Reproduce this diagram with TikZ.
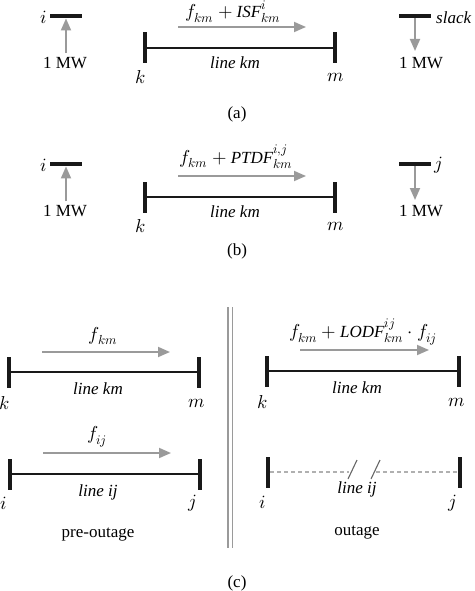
\documentclass[tikz,border=0pt]{standalone}
\usepackage{fontspec}
\usepackage{unicode-math}
\setmainfont{Liberation Serif}
\setmathfont{Latin Modern Math}[Scale=1.1]
\usetikzlibrary{arrows.meta}
\definecolor{flowgray}{HTML}{9A9A9A}
\definecolor{dashgray}{HTML}{B0B0B0}
\tikzset{
  vbus/.style={fill=black!90,draw=none,minimum width=4.5pt,minimum height=31pt,inner sep=0pt},
  hbus/.style={fill=black!90,draw=none,minimum width=32pt,minimum height=4.5pt,inner sep=0pt},
  lineconn/.style={line width=1.8pt,black!90},
  flow/.style={line width=1.8pt,flowgray,-{Triangle[length=12pt,width=10pt]}},
  outline/.style={line width=1.4pt,dashgray,dash pattern=on 4pt off 3pt},
  cut/.style={line width=1.1pt,black!60},
  lbl/.style={inner sep=0pt,font=\fontsize{17}{20}\selectfont},
  sep/.style={line width=1.3pt,flowgray}
}
\begin{document}
\begin{tikzpicture}[x=1pt,y=-1pt]
\useasboundingbox (0,0) rectangle (474,591);
% ---------- (a)
\node[hbus] (ai) at (66,16) {};
\node[lbl,anchor=east] (ail) at (47,17) {$i$};
\coordinate (aisrc) at (66,53);
\node[lbl] (aimw) at (65,63) {1 MW};
\draw[flow] (aisrc) -- (ai.south);
\node[vbus] (ak) at (145,48) {};
\node[vbus] (am) at (335,48) {};
\draw[lineconn] (ak) -- (am);
\node[lbl] (akl) at (141,77) {$k$};
\node[lbl] (aml) at (336,77) {$m$};
\node[lbl] (aline) at (235,63) {$\mathit{line\ km}$};
\coordinate (afs) at (178,27);
\coordinate (afe) at (306,27);
\draw[flow] (afs) -- (afe);
\node[lbl] (afl) at (233,12) {$f_{km}+\mathit{ISF}^{i}_{km}$};
\node[hbus] (as) at (415,16) {};
\node[lbl,anchor=west] (asl) at (436,18) {$\mathit{slack}$};
\coordinate (asdst) at (415,51);
\draw[flow] (as.south) -- (asdst);
\node[lbl] (asmw) at (421,63) {1 MW};
\node[lbl] (acap) at (237,114) {(a)};
% ---------- (b)
\node[hbus] (bi) at (66,164) {};
\node[lbl,anchor=east] (bil) at (47,165) {$i$};
\coordinate (bisrc) at (66,201);
\node[lbl] (bimw) at (65,211) {1 MW};
\draw[flow] (bisrc) -- (bi.south);
\node[vbus] (bk) at (145,197) {};
\node[vbus] (bm) at (335,197) {};
\draw[lineconn] (bk) -- (bm);
\node[lbl] (bkl) at (141,226) {$k$};
\node[lbl] (bml) at (336,226) {$m$};
\node[lbl] (bline) at (235,212) {$\mathit{line\ km}$};
\coordinate (bfs) at (178,176);
\coordinate (bfe) at (306,176);
\draw[flow] (bfs) -- (bfe);
\node[lbl] (bfl) at (236,157) {$f_{km}+\mathit{PTDF}^{i,j}_{km}$};
\node[hbus] (bj) at (415,164) {};
\node[lbl,anchor=west] (bjl) at (434,165) {$j$};
\coordinate (bjdst) at (415,200);
\draw[flow] (bj.south) -- (bjdst);
\node[lbl] (bjmw) at (421,211) {1 MW};
\node[lbl] (bcap) at (237,251) {(b)};
% ---------- (c) separator
\coordinate (s1a) at (228,307);
\coordinate (s1b) at (228,548);
\coordinate (s2a) at (232.5,307);
\coordinate (s2b) at (232.5,548);
\draw[sep] (s1a) -- (s1b);
\draw[sep] (s2a) -- (s2b);
% ---------- (c) pre-outage
\node[vbus] (ck) at (9,372) {};
\node[vbus] (cm) at (199,372) {};
\draw[lineconn] (ck) -- (cm);
\node[lbl] (ckl) at (5,403) {$k$};
\node[lbl] (cml) at (197,403) {$m$};
\node[lbl] (cline) at (98,389) {$\mathit{line\ km}$};
\coordinate (cfs) at (42,352);
\coordinate (cfe) at (170,352);
\draw[flow] (cfs) -- (cfe);
\node[lbl] (cfl) at (103,336) {$f_{km}$};
\node[vbus] (ci) at (10,474) {};
\node[vbus] (cj) at (200,474) {};
\draw[lineconn] (ci) -- (cj);
\node[lbl] (cil) at (4,503) {$i$};
\node[lbl] (cjl) at (192,503) {$j$};
\node[lbl] (clij) at (98,492) {$\mathit{line\ ij}$};
\coordinate (cgs) at (43,453);
\coordinate (cge) at (171,453);
\draw[flow] (cgs) -- (cge);
\node[lbl] (cgl) at (97,437) {$f_{ij}$};
\node[lbl] (cpre) at (98,535) {pre-outage};
% ---------- (c) outage
\node[vbus] (dk) at (267,371) {};
\node[vbus] (dm) at (459,371) {};
\draw[lineconn] (dk) -- (dm);
\node[lbl] (dkl) at (263,402) {$k$};
\node[lbl] (dml) at (457,402) {$m$};
\node[lbl] (dline) at (357,388) {$\mathit{line\ km}$};
\coordinate (dfs) at (300,350);
\coordinate (dfe) at (429,350);
\draw[flow] (dfs) -- (dfe);
\node[lbl] (dfl) at (363,332) {$f_{km}+\mathit{LODF}^{ij}_{km}\cdot f_{ij}$};
\node[vbus] (di) at (268,472) {};
\node[vbus] (dj) at (460,472) {};
\coordinate (dc1) at (349,472);
\coordinate (dc2) at (376,472);
\draw[outline] (di) -- (dc1);
\draw[outline] (dc2) -- (dj);
\coordinate (d1a) at (348,479);
\coordinate (d1b) at (357,460);
\coordinate (d2a) at (371,479);
\coordinate (d2b) at (380,460);
\draw[cut] (d1a) -- (d1b);
\draw[cut] (d2a) -- (d2b);
\node[lbl] (dlij) at (357,489) {$\mathit{line\ ij}$};
\node[lbl] (dil) at (263,502) {$i$};
\node[lbl] (djl) at (452,503) {$j$};
\node[lbl] (dout) at (357,533) {outage};
\node[lbl] (ccap) at (237,583) {(c)};
\end{tikzpicture}
\end{document}
